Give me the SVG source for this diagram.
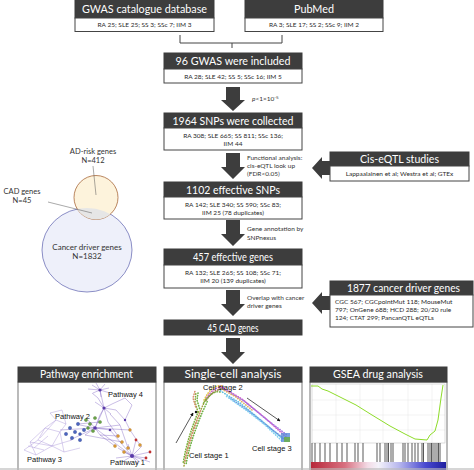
<svg xmlns="http://www.w3.org/2000/svg" width="474" height="470" viewBox="0 0 474 470">
<style>
.hd{fill:#3d3d3d;stroke:#3d3d3d;stroke-width:1}
.bx{fill:#fff;stroke:#444;stroke-width:1}
.ht{font-family:Lato,"Open Sans",sans-serif;font-size:10.5px;font-weight:400;fill:#fff;text-anchor:middle}
.st{font-family:Lato,"Open Sans",sans-serif;font-size:6.5px;fill:#2a2a2a;text-anchor:middle}
.sl{font-family:Lato,"Open Sans",sans-serif;font-size:6.5px;fill:#2a2a2a}
.lb{font-family:Lato,"Open Sans",sans-serif;font-size:6.5px;fill:#333}
.vt{font-family:Lato,"Open Sans",sans-serif;font-size:7.5px;fill:#333;text-anchor:middle}
.pt{font-family:"Liberation Sans",Arial,sans-serif;font-size:7.5px;fill:#111}
.ar{fill:#3d3d3d}
.net{fill:none;stroke:#7a5cc0;stroke-width:0.5;stroke-opacity:0.8}
.netl{fill:none;stroke:#a996d8;stroke-width:0.45}
.dot{fill:none;stroke-width:1.6;stroke-linecap:round;stroke-dasharray:0.4 2.2}
</style>
<defs>
<clipPath id="blueClip"><ellipse cx="87" cy="250" rx="45" ry="42"/></clipPath>
<linearGradient id="rank" x1="0" x2="1" y1="0" y2="0">
<stop offset="0" stop-color="#b8283a"/>
<stop offset="0.25" stop-color="#d87080"/>
<stop offset="0.42" stop-color="#f3dbe6"/>
<stop offset="0.5" stop-color="#f4f2fa"/>
<stop offset="0.65" stop-color="#b8b8ee"/>
<stop offset="0.85" stop-color="#4848d0"/>
<stop offset="1" stop-color="#2020a0"/>
</linearGradient>
<marker id="ah" viewBox="0 0 6 6" refX="5" refY="3" markerWidth="5" markerHeight="5" orient="auto"><path d="M0,0 L6,3 L0,6 z" fill="#111"/></marker>
</defs>

<!-- Venn -->
<g id="venn">
<ellipse cx="87" cy="250" rx="45" ry="42" fill="#eef0fa" stroke="#6e72b8" stroke-width="0.8"/>
<circle cx="96" cy="197.5" r="22" fill="#fdf3dc" stroke="#a8683a" stroke-width="0.8"/>
<circle cx="96" cy="197.5" r="22" fill="#e6e6e6" clip-path="url(#blueClip)"/>
<text class="vt" x="93" y="154">AD-risk genes</text>
<text class="vt" x="93" y="163">N=412</text>
<line x1="93" y1="166" x2="96" y2="195" stroke="#555" stroke-width="0.5"/>
<text class="vt" x="22" y="194">CAD genes</text>
<text class="vt" x="22" y="203">N=45</text>
<line x1="48" y1="202" x2="92" y2="213" stroke="#555" stroke-width="0.5"/>
<text class="vt" x="87" y="250" style="font-size:8px">Cancer driver genes</text>
<text class="vt" x="87" y="259" style="font-size:8px">N=1832</text>
</g>

<!-- Connectors -->
<g id="connectors">
<path d="M180,35 V43 H282 V35 M232,43 V48" fill="none" stroke="#444" stroke-width="1"/>
<polygon class="ar" points="226,87 240,87 240,100 245,100 233,111 221,100 226,100"/>
<polygon class="ar" points="226,153 240,153 240,167 245,167 233,179 221,167 226,167"/>
<polygon class="ar" points="226,220 240,220 240,234 245,234 233,246 221,234 226,234"/>
<polygon class="ar" points="226,290 240,290 240,304 245,304 233,316 221,304 226,304"/>
<polygon class="ar" points="226,338 240,338 240,352 245,352 233,364 221,352 226,352"/>
<polygon class="ar" points="312,168 322,157 322,161 330,161 330,175 322,175 322,179"/>
<polygon class="ar" points="312,303 322,292 322,296 330,296 330,310 322,310 322,314"/>
<text class="lb" x="252" y="101"><tspan font-style="italic">p</tspan>&lt;1×10<tspan dy="-2.5" font-size="4.5">-5</tspan></text>
<text class="lb" x="247" y="160">Functional analysis:</text>
<text class="lb" x="247" y="168">cis-eQTL look up</text>
<text class="lb" x="247" y="176">(FDR&lt;0.05)</text>
<text class="lb" x="247" y="231">Gene annotation by</text>
<text class="lb" x="247" y="240">SNPnexus</text>
<text class="lb" x="247" y="300">Overlap with cancer</text>
<text class="lb" x="247" y="308">driver genes</text>
</g>

<g id="gwas">
<rect class="hd" x="75" y="-1" width="139" height="19"/>
<rect class="bx" x="75" y="18" width="139" height="13.5"/>
<text class="ht" x="144.5" y="13" textLength="125" lengthAdjust="spacingAndGlyphs">GWAS catalogue database</text>
<text class="st" x="144.5" y="27">RA 25; SLE 25; SS 3; SSc 7; IIM 3</text>
</g>
<g id="pubmed">
<rect class="hd" x="245" y="-1" width="138" height="19"/>
<rect class="bx" x="245" y="18" width="138" height="13.5"/>
<text class="ht" x="314" y="13" textLength="40" lengthAdjust="spacingAndGlyphs">PubMed</text>
<text class="st" x="314" y="27">RA 3; SLE 17; SS 2; SSc 9; IIM 2</text>
</g>
<g id="gwas96">
<rect class="hd" x="164" y="53" width="138" height="16"/>
<rect class="bx" x="164" y="69" width="138" height="14"/>
<text class="ht" x="233" y="65" textLength="115" lengthAdjust="spacingAndGlyphs">96 GWAS were included</text>
<text class="st" x="233" y="78.5">RA 28; SLE 42; SS 5; SSc 16; IIM 5</text>
</g>
<g id="snps1964">
<rect class="hd" x="164" y="113" width="138" height="15"/>
<rect class="bx" x="164" y="128" width="138" height="22"/>
<text class="ht" x="233" y="124.5" textLength="121" lengthAdjust="spacingAndGlyphs">1964 SNPs were collected</text>
<text class="st" x="233" y="137.5">RA 308; SLE 665; SS 811; SSc 136;</text>
<text class="st" x="233" y="145.5">IIM 44</text>
</g>
<g id="ciseqtl">
<rect class="hd" x="330" y="152" width="139" height="14"/>
<rect class="bx" x="330" y="166" width="139" height="15"/>
<text class="ht" x="399.5" y="163" textLength="79" lengthAdjust="spacingAndGlyphs">Cis-eQTL studies</text>
<text class="st" x="399.5" y="176">Lappaalainen et al; Westra et al; GTEx</text>
</g>
<g id="snps1102">
<rect class="hd" x="164" y="182" width="138" height="15"/>
<rect class="bx" x="164" y="197" width="138" height="22"/>
<text class="ht" x="233" y="193.5" textLength="94" lengthAdjust="spacingAndGlyphs">1102 effective SNPs</text>
<text class="st" x="233" y="206.5">RA 142; SLE 340; SS 590; SSc 83;</text>
<text class="st" x="233" y="214.5">IIM 25 (78 duplicates)</text>
</g>
<g id="genes457">
<rect class="hd" x="164" y="249" width="138" height="16"/>
<rect class="bx" x="164" y="265" width="138" height="23"/>
<text class="ht" x="233" y="261" textLength="80" lengthAdjust="spacingAndGlyphs">457 effective genes</text>
<text class="st" x="233" y="275">RA 132; SLE 265; SS 108; SSc 71;</text>
<text class="st" x="233" y="283">IIM 20 (139 duplicates)</text>
</g>
<g id="cancer1877">
<rect class="hd" x="330" y="281" width="143" height="14"/>
<rect class="bx" x="330" y="295" width="143" height="32"/>
<text class="ht" x="403.5" y="292" textLength="113" lengthAdjust="spacingAndGlyphs">1877 cancer driver genes</text>
<text class="sl" x="335" y="304">CGC 567; CGCpointMut 118; MouseMut</text>
<text class="sl" x="335" y="312">797; OnGene 688; HCD 288; 20/20 rule</text>
<text class="sl" x="335" y="320">124; CTAT 299; PancanQTL eQTLs</text>
</g>
<g id="cad45">
<rect class="hd" x="164" y="320" width="138" height="15"/>
<text class="ht" x="233" y="331.5" textLength="51" lengthAdjust="spacingAndGlyphs">45 CAD genes</text>
</g>

<!-- Pathway enrichment panel -->
<g id="pathway">
<rect x="18" y="382" width="138" height="90" fill="#fff" stroke="#555" stroke-width="0.8"/>
<rect class="hd" x="18" y="367" width="138" height="15"/>
<text class="ht" x="86.5" y="378" textLength="93" lengthAdjust="spacingAndGlyphs">Pathway enrichment</text>
<path class="netl" d="M24,450 L38,440 L52,446 L60,432 L45,428 L38,440 M24,450 L36,455 L52,446 L64,452 L60,432 M45,428 L56,420 L66,424 L60,432 M36,455 L30,442 L45,428 M52,446 L72,440 M56,420 L50,413 L62,410 L66,424 M40,438 L56,420 M30,442 L52,446 M64,452 L80,448 M28,446 L44,450 M34,448 L48,436"/>
<path class="net" d="M100,390 L92,385 M100,390 L96,383 M100,390 L105,384 M100,390 L109,388 M100,390 L93,393 M100,390 L101,397 M100,390 L110,393 M100,390 L88,389 M100,390 L104,408 M104,408 L95,402 M104,408 L112,404 M104,408 L100,415 M104,408 L111,414 M104,408 L98,398 M104,408 L116,410 M104,408 L95,428 M95,428 L80,425 M95,428 L85,435 M95,428 L100,435 M95,428 L110,430 M95,428 L120,425 M95,428 L130,430 M95,428 L70,440 M95,428 L60,430 M95,428 L88,420 M95,428 L132,456 M110,430 L132,456 M120,425 L128,448 M116,410 L125,420 L130,430 L140,445 M112,404 L125,398 L132,405 L125,420 M132,456 L118,448 M132,456 L122,462 M132,456 L138,464 M132,456 L146,458 M132,456 L150,452 M132,456 L142,446 M132,456 L128,444 M132,456 L124,452 M132,456 L140,462 M132,456 L150,462 M132,456 L116,458 M132,456 L136,440 M100,435 L118,436 M100,435 L115,446 M85,435 L122,442 M110,414 L120,425 M100,415 L95,428 M78,424 L100,422 M92,393 L98,398 M104,408 L108,422 M108,422 L118,436"/>
<g fill="#4a64c0" stroke="#2a3a80" stroke-width="0.3">
<circle cx="70" cy="428" r="1.7"/><circle cx="75" cy="432" r="1.7"/><circle cx="72" cy="438" r="1.7"/><circle cx="80" cy="440" r="1.7"/><circle cx="78" cy="424" r="1.7"/><circle cx="84" cy="430" r="1.7"/><circle cx="66" cy="434" r="1.7"/><circle cx="80" cy="434" r="1.5"/>
</g>
<g fill="#6aa548" stroke="#3a6020" stroke-width="0.3">
<circle cx="86" cy="420" r="1.6"/><circle cx="90" cy="424" r="1.6"/><circle cx="95" cy="418" r="1.6"/><circle cx="100" cy="422" r="1.6"/><circle cx="93" cy="431" r="1.6"/><circle cx="88" cy="428" r="1.5"/>
</g>
<g fill="#e0a038" stroke="#905010" stroke-width="0.3">
<circle cx="118" cy="436" r="1.5"/><circle cx="122" cy="442" r="1.5"/><circle cx="128" cy="448" r="1.5"/><circle cx="140" cy="445" r="1.5"/><circle cx="115" cy="446" r="1.5"/><circle cx="124" cy="452" r="1.5"/><circle cx="130" cy="430" r="1.4"/>
</g>
<g fill="#c03030"><circle cx="150" cy="452" r="1.4"/><circle cx="146" cy="458" r="1.4"/><circle cx="136" cy="440" r="1.4"/></g>
<g fill="#5a3aa8"><circle cx="100" cy="390" r="1.6"/><circle cx="104" cy="408" r="1.6"/><circle cx="95" cy="428" r="1.8"/><circle cx="132" cy="456" r="2"/><circle cx="110" cy="430" r="1.3"/><circle cx="125" cy="420" r="1.2"/></g>
<text class="pt" x="108" y="397">Pathway 4</text>
<text class="pt" x="55" y="419">Pathway 2</text>
<text class="pt" x="27" y="462">Pathway 3</text>
<text class="pt" x="110" y="465">Pathway 1</text>
</g>

<!-- Single-cell panel -->
<g id="singlecell">
<rect x="164" y="382" width="138" height="90" fill="#fff" stroke="#555" stroke-width="0.8"/>
<rect class="hd" x="164" y="367" width="138" height="15"/>
<text class="ht" x="233" y="378" textLength="97" lengthAdjust="spacingAndGlyphs">Single-cell analysis</text>
<path class="dot" stroke="#a4a040" d="M184,466 C187,446 194,426 200,412 L206,398"/>
<path class="dot" stroke="#6ab040" d="M186,465 C189,446 196,428 202,413 L208,400" stroke-dashoffset="1"/>
<path class="dot" stroke="#d89070" d="M185,462 C188,444 195,426 201,410" stroke-dashoffset="1.5"/>
<path class="dot" stroke="#7cae3c" d="M183,464 C186,444 193,424 199,410" stroke-dashoffset="0.7"/>
<path class="dot" stroke="#8aa838" d="M198,412 L195,402 L196,392"/>
<path class="dot" stroke="#6ab040" d="M200,410 L197,400 L198,393" stroke-dashoffset="1"/>
<path class="dot" stroke="#d89070" d="M196,408 L193,398 L195,391" stroke-dashoffset="1.4"/>
<path class="dot" stroke="#e0c848" d="M204,400 Q212,384 222,386"/>
<path class="dot" stroke="#d060c8" d="M206,399 Q214,385 224,388" stroke-dashoffset="1"/>
<path class="dot" stroke="#a07050" d="M205,402 Q214,388 222,390" stroke-dashoffset="0.5"/>
<path class="dot" stroke="#7cae3c" d="M203,404 Q212,390 220,392" stroke-dashoffset="1.7"/>
<path class="dot" stroke="#d060c8" d="M220,386 L242,399 L264,417 L286,437"/>
<path class="dot" stroke="#60c0e0" d="M219,390 L240,403 L262,421 L284,440" stroke-dashoffset="1"/>
<path class="dot" stroke="#a070e0" d="M222,388 L244,401 L266,419 L287,435" stroke-dashoffset="1.5"/>
<path class="dot" stroke="#e0b060" d="M218,387 L236,397 L252,410" stroke-dashoffset="0.7"/>
<path class="dot" stroke="#6a90e0" d="M230,398 L250,412 L270,428 L286,440" stroke-dashoffset="0.3"/>
<path class="dot" stroke="#80d0f0" d="M226,396 L246,410 L264,424 L282,441" stroke-dashoffset="1.9"/>
<circle cx="196" cy="412" r="1.2" fill="#111"/>
<rect x="281" y="433" width="9" height="9" fill="#5a8ad8" opacity="0.8"/>
<rect x="284" y="437" width="6" height="5" fill="#6ab040" opacity="0.8"/>
<line x1="176" y1="443" x2="193" y2="413" stroke="#111" stroke-width="0.7" marker-end="url(#ah)"/>
<line x1="247" y1="398" x2="280" y2="421" stroke="#111" stroke-width="0.7" marker-end="url(#ah)"/>
<text class="pt" x="203" y="390">Cell stage 2</text>
<text class="pt" x="189" y="458">Cell stage 1</text>
<text class="pt" x="252" y="451">Cell stage 3</text>
</g>

<!-- GSEA panel -->
<g id="gsea">
<rect x="310" y="382" width="137" height="90" fill="#fff" stroke="#555" stroke-width="0.8"/>
<rect class="hd" x="310" y="367" width="137" height="15"/>
<text class="ht" x="378" y="378" textLength="90" lengthAdjust="spacingAndGlyphs">GSEA drug analysis</text>
<g stroke="#e6e6e6" stroke-width="0.5">
<line x1="336" y1="384" x2="336" y2="443"/><line x1="360" y1="384" x2="360" y2="443"/><line x1="383" y1="384" x2="383" y2="443"/><line x1="408" y1="384" x2="408" y2="443"/><line x1="432" y1="384" x2="432" y2="443"/>
<line x1="312" y1="400" x2="445" y2="400"/><line x1="312" y1="415" x2="445" y2="415"/><line x1="312" y1="430" x2="445" y2="430"/>
</g>
<rect x="312" y="384" width="133" height="59" fill="none" stroke="#bbb" stroke-width="0.5"/>
<path d="M311,386 L318,386 L322,389 L328,391 L340,397 L356,405 L372,415 L390,426 L405,434 L415,439 L427,440 L430,435 L435,431 L438,420 L441,398 L443,385" fill="none" stroke="#8edc2a" stroke-width="1"/>
<g stroke="#111" stroke-width="0.7">
<line x1="312" y1="443" x2="312" y2="462"/><line x1="315" y1="443" x2="315" y2="462"/><line x1="320" y1="443" x2="320" y2="462"/><line x1="325" y1="443" x2="325" y2="462"/><line x1="330" y1="443" x2="330" y2="462"/><line x1="337" y1="443" x2="337" y2="462"/><line x1="342" y1="443" x2="342" y2="462"/><line x1="347" y1="443" x2="347" y2="462"/><line x1="355" y1="443" x2="355" y2="462"/><line x1="358" y1="443" x2="358" y2="462"/><line x1="363" y1="443" x2="363" y2="462"/><line x1="377" y1="443" x2="377" y2="462"/><line x1="380" y1="443" x2="380" y2="462"/><line x1="385" y1="443" x2="385" y2="462"/><line x1="387" y1="443" x2="387" y2="462"/><line x1="388.5" y1="443" x2="388.5" y2="462"/><line x1="391" y1="443" x2="391" y2="462"/><line x1="393" y1="443" x2="393" y2="462"/><line x1="403" y1="443" x2="403" y2="462"/><line x1="405" y1="443" x2="405" y2="462"/><line x1="408" y1="443" x2="408" y2="462"/><line x1="412" y1="443" x2="412" y2="462"/><line x1="415" y1="443" x2="415" y2="462"/><line x1="418" y1="443" x2="418" y2="462"/><line x1="422" y1="443" x2="422" y2="462"/><line x1="423.5" y1="443" x2="423.5" y2="462"/><line x1="428" y1="443" x2="428" y2="462"/><line x1="430" y1="443" x2="430" y2="462"/><line x1="431.5" y1="443" x2="431.5" y2="462"/><line x1="433" y1="443" x2="433" y2="462"/><line x1="435" y1="443" x2="435" y2="462"/><line x1="437" y1="443" x2="437" y2="462"/><line x1="438.5" y1="443" x2="438.5" y2="462"/><line x1="440" y1="443" x2="440" y2="462"/>
</g>
<rect x="311" y="462" width="135" height="8" fill="url(#rank)"/>
</g>
<rect x="0" y="468" width="474" height="2" fill="#bbb" opacity="0.6"/>
</svg>
